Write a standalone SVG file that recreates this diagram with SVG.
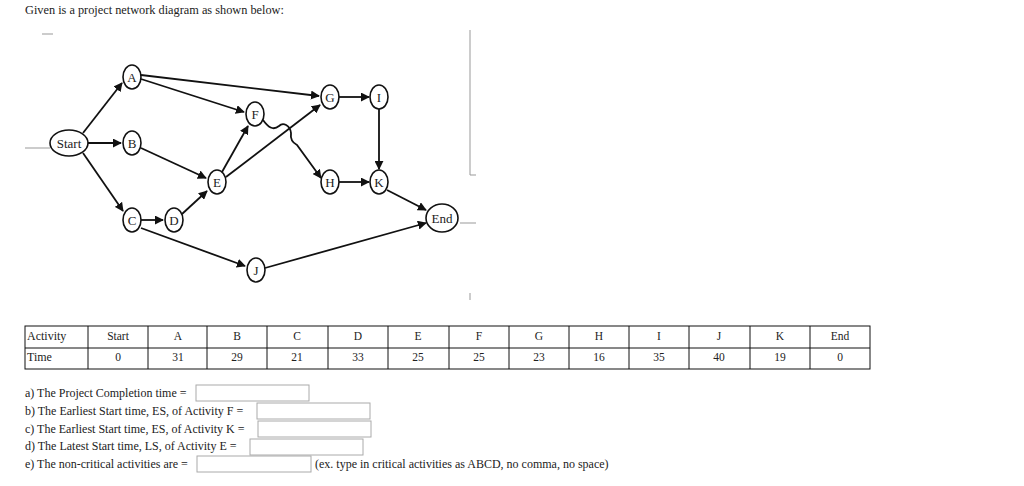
<svg xmlns="http://www.w3.org/2000/svg" width="1024" height="486" viewBox="0 0 1024 486">
<style>
text{font-family:"Liberation Serif",serif;fill:#222}
.n ellipse{fill:#fff;stroke:#111;stroke-width:1.6}
.n text{font-size:13px;text-anchor:middle;font-family:"Liberation Sans Narrow","Liberation Serif",serif}
.c line,.c path{stroke:#111;stroke-width:1.8;fill:none;marker-end:url(#ah)}
.g{stroke:#999;stroke-width:1;fill:none}
.t{font-size:12px}
.tc{font-size:11.5px;text-anchor:middle}
.tb{fill:none;stroke:#111;stroke-width:1}
.box{fill:#fff;stroke:#aaa;stroke-width:1}
</style>
<defs><marker id="ah" viewBox="0 0 10 10" refX="9" refY="5" markerWidth="5" markerHeight="5" orient="auto"><path d="M0,0L10,5L0,10z" fill="#111"/></marker></defs>
<rect width="1024" height="486" fill="#fff"/>
<text x="25" y="14" style="font-size:12.3px">Given is a project network diagram as shown below:</text>
<path class="g" d="M42 34H53M25 148H50M470 30V175H476M460 223H476M470 293V300"/>
<g class="c">
<line x1="83" y1="133" x2="122" y2="83"/>
<line x1="88" y1="143" x2="121" y2="143"/>
<line x1="83" y1="153" x2="123" y2="211"/>
<line x1="141" y1="75" x2="319" y2="96"/>
<line x1="141" y1="79" x2="244" y2="112"/>
<line x1="141" y1="148" x2="206" y2="178"/>
<line x1="141" y1="220" x2="163" y2="220"/>
<line x1="141" y1="228" x2="245" y2="266"/>
<line x1="182" y1="214" x2="207" y2="191"/>
<line x1="222" y1="172" x2="248" y2="126"/>
<line x1="226" y1="177" x2="320" y2="105"/>
<path d="M263 120C268 127 273 131 279 126C283 122 290 125 291 133C290 140 293 143 297 145L321 178"/>
<line x1="339" y1="97" x2="369" y2="97"/>
<line x1="379" y1="109" x2="379" y2="169"/>
<line x1="339" y1="182" x2="369" y2="182"/>
<line x1="387" y1="190" x2="426" y2="210"/>
<line x1="265" y1="268" x2="426" y2="223"/>
</g>
<g id="Start" class="n"><ellipse cx="69" cy="143" rx="19" ry="13"/><text x="69" y="148">Start</text></g>
<g id="A" class="n"><ellipse cx="132" cy="77" rx="9" ry="12"/><text x="132" y="82">A</text></g>
<g id="B" class="n"><ellipse cx="132" cy="143" rx="9" ry="12"/><text x="132" y="148">B</text></g>
<g id="C" class="n"><ellipse cx="132" cy="220" rx="9" ry="12"/><text x="132" y="225">C</text></g>
<g id="D" class="n"><ellipse cx="174" cy="220" rx="9" ry="12"/><text x="174" y="225">D</text></g>
<g id="E" class="n"><ellipse cx="217" cy="182" rx="9" ry="12"/><text x="217" y="187">E</text></g>
<g id="F" class="n"><ellipse cx="255" cy="114" rx="9" ry="12"/><text x="255" y="119">F</text></g>
<g id="G" class="n"><ellipse cx="330" cy="97" rx="9" ry="12"/><text x="330" y="102">G</text></g>
<g id="I" class="n"><ellipse cx="379" cy="97" rx="9" ry="12"/><text x="379" y="102">I</text></g>
<g id="H" class="n"><ellipse cx="330" cy="182" rx="9" ry="12"/><text x="330" y="187">H</text></g>
<g id="K" class="n"><ellipse cx="379" cy="182" rx="9" ry="12"/><text x="379" y="187">K</text></g>
<g id="J" class="n"><ellipse cx="256" cy="270" rx="9" ry="12"/><text x="256" y="275">J</text></g>
<g id="End" class="n"><ellipse cx="442" cy="218" rx="16" ry="14"/><text x="442" y="223">End</text></g>
<g id="table">
<rect class="tb" x="25" y="326" width="845" height="43"/>
<path class="tb" d="M25 348H870M88 326V369M148 326V369M207 326V369M267 326V369M328 326V369M388 326V369M449 326V369M509 326V369M569 326V369M629 326V369M689 326V369M750 326V369M810 326V369"/>
<text class="t" x="27" y="340">Activity</text><text class="t" x="27" y="361">Time</text>
<g class="tc">
<text x="118" y="340">Start</text><text x="178" y="340">A</text><text x="237" y="340">B</text><text x="297" y="340">C</text><text x="358" y="340">D</text><text x="418" y="340">E</text><text x="479" y="340">F</text><text x="539" y="340">G</text><text x="599" y="340">H</text><text x="659" y="340">I</text><text x="719" y="340">J</text><text x="780" y="340">K</text><text x="840" y="340">End</text>
<text x="118" y="361">0</text><text x="178" y="361">31</text><text x="237" y="361">29</text><text x="297" y="361">21</text><text x="358" y="361">33</text><text x="418" y="361">25</text><text x="479" y="361">25</text><text x="539" y="361">23</text><text x="599" y="361">16</text><text x="659" y="361">35</text><text x="719" y="361">40</text><text x="780" y="361">19</text><text x="840" y="361">0</text>
</g>
</g>
<g id="questions">
<rect class="box" x="196" y="385" width="113" height="16"/>
<rect class="box" x="257" y="403" width="113" height="16"/>
<rect class="box" x="258" y="421" width="113" height="16"/>
<rect class="box" x="250" y="439" width="113" height="16"/>
<rect class="box" x="197" y="456" width="114" height="16"/>
<text class="t" x="25" y="397">a) The Project Completion time =</text>
<text class="t" x="25" y="415">b) The Earliest Start time, ES, of Activity F =</text>
<text class="t" x="25" y="433">c) The Earliest Start time, ES, of Activity K =</text>
<text class="t" x="25" y="450">d) The Latest Start time, LS, of Activity E =</text>
<text class="t" x="25" y="468">e) The non-critical activities are =</text>
<text class="t" x="315" y="468">(ex. type in critical activities as ABCD, no comma, no space)</text>
</g>
</svg>
